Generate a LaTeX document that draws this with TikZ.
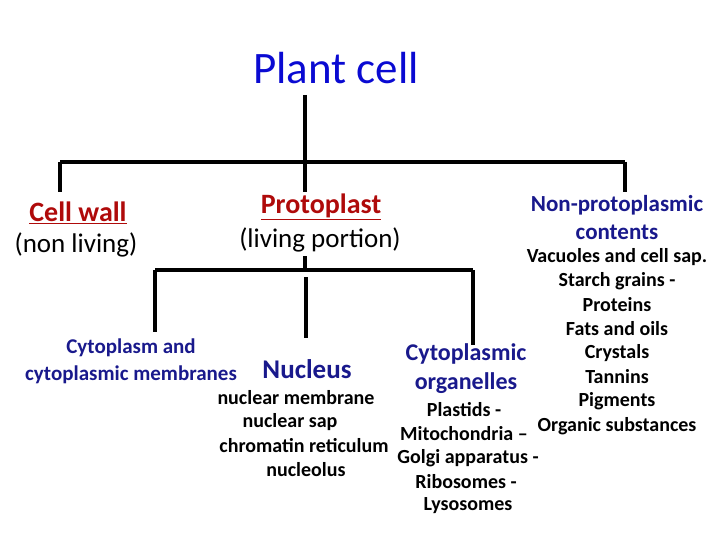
\documentclass[tikz,border=0pt]{standalone}
\usepackage{fontspec}
\setmainfont{Carlito}
\definecolor{titleblue}{RGB}{10,10,210}
\definecolor{navy}{RGB}{25,25,140}
\definecolor{darkred}{RGB}{175,10,10}
\begin{document}
\begin{tikzpicture}[x=1pt,y=-1pt,
  line/.style={line width=3.5pt},
  head/.style={font=\fontsize{28}{30}\selectfont\bfseries,text=darkred},
  sub/.style={font=\fontsize{27}{29}\selectfont},
  blue1/.style={font=\fontsize{21}{23}\selectfont\bfseries,text=navy},
  item/.style={font=\fontsize{20}{22}\selectfont\bfseries,inner sep=0pt},
  every node/.style={inner sep=1pt}]
\useasboundingbox (0,0) rectangle (720,540);
\node[font=\fontsize{45}{48}\selectfont,text=titleblue] (title) at (336,68) {Plant cell};
\coordinate (t1) at (305,95);
\coordinate (hl) at (60,162); \coordinate (hm) at (305,162); \coordinate (hr) at (625,162);
\draw[line] (t1) -- (hm);
\draw[line] (hl) -- (hr);
\coordinate (dl) at (60,192); \coordinate (dm) at (305,192); \coordinate (dr) at (625,192);
\draw[line] (hl) -- (dl); \draw[line] (hm) -- (dm); \draw[line] (hr) -- (dr);

\node[head] (cw) at (78,213) {\underline{Cell wall}};
\node[sub] (cw2) at (76,245) {(non living)};
\node[head] (pp) at (321,207) {\underline{Protoplast}};
\node[sub] (pp2) at (320,240) {(living portion)};
\node[blue1,align=center,font=\fontsize{23}{28}\selectfont\bfseries] (np) at (617,218) {Non-protoplasmic\\contents};

\coordinate (p1) at (305,256); \coordinate (p2) at (305,270);
\draw[line] (p1) -- (p2);
\coordinate (gl) at (155,270); \coordinate (gr) at (473,270);
\draw[line] (gl) -- (gr);
\coordinate (gl2) at (155,332); \coordinate (gr2) at (473,345);
\draw[line] (gl) -- (gl2); \draw[line] (gr) -- (gr2);
\coordinate (m1) at (306,277); \coordinate (m2) at (306,338);
\draw[line] (m1) -- (m2);

\node[blue1,align=center,font=\fontsize{21}{27}\selectfont\bfseries] (cy) at (131,361) {Cytoplasm and\\cytoplasmic membranes};
\node[blue1,font=\fontsize{27}{29}\selectfont\bfseries] (nu) at (307,369) {Nucleus};
\node[blue1,align=center,font=\fontsize{24}{29}\selectfont\bfseries] (org) at (466,369) {Cytoplasmic\\organelles};

\foreach \t/\x/\y in {nuclear membrane/296/398, nuclear sap/290/422, chromatin reticulum/304/446, nucleolus/306/470,
  Plastids -/464/410, Mitochondria --/464/434, Golgi apparatus -/468/458, Ribosomes -/466/482, Lysosomes/468/506,
  Vacuoles and cell sap./617/257, Starch grains -/617/281, Proteins/617/305, Fats and oils/617/329, Crystals/617/353,
  Tannins/617/377, Pigments/617/401, Organic substances/617/426}
  \node[item] at (\x,\y) {\t};
\end{tikzpicture}
\end{document}
